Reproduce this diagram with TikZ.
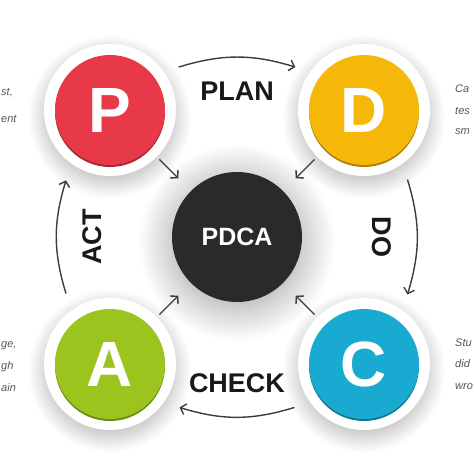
\documentclass[tikz,border=0pt]{standalone}
\usepackage{fontspec}
\setmainfont{Liberation Sans}
\usetikzlibrary{arrows.meta,shadows.blur}
\definecolor{pdcared}{RGB}{232,57,73}
\definecolor{pdcayellow}{RGB}{246,184,8}
\definecolor{pdcablue}{RGB}{24,170,208}
\definecolor{pdcagreen}{RGB}{156,196,30}
\definecolor{pdcadark}{RGB}{42,42,42}
\definecolor{pdcaline}{RGB}{60,60,60}
\definecolor{pdcanote}{RGB}{85,85,85}

\begin{document}
\begin{tikzpicture}[x=1pt,y=1pt,
  ring/.style={circle,fill=white,minimum size=132pt,inner sep=0pt,
    blur shadow={shadow xshift=0pt,shadow yshift=-7pt,shadow blur radius=16pt,
      shadow blur steps=25,shadow opacity=28}},
  disc/.style={circle,fill=#1,minimum size=110pt,inner sep=0pt,text=white,
    font=\fontsize{64}{64}\selectfont\bfseries,
    preaction={fill=#1!70!black,transform canvas={yshift=-2pt}}},
  stage/.style={font=\fontsize{27}{27}\selectfont\bfseries,text=black!90,inner sep=0pt},
  flow/.style={pdcaline,line width=1.4pt,-{Straight Barb[length=5pt,width=11pt]}},
  note/.style={font=\fontsize{11}{11}\selectfont\itshape,text=pdcanote,inner sep=0pt}]
\useasboundingbox (0,0) rectangle (474,474);
\clip (0,0) rectangle (474,474);
% Centre
\node[circle,minimum size=130pt,inner sep=0pt,fill=pdcadark,
  text=white,font=\fontsize{25}{25}\selectfont\bfseries,
  blur shadow={shadow xshift=0pt,shadow yshift=-6pt,shadow blur radius=34pt,
    shadow blur steps=30,shadow opacity=38}]
  (PDCA) at (237,237) {PDCA};
% Rings
\node[ring] (Pring) at (110,364) {};
\node[ring] (Dring) at (364,364) {};
\node[ring] (Cring) at (364,110) {};
\node[ring] (Aring) at (110,110) {};
% Discs
\node[disc=pdcared] (P) at (Pring) {P};
\node[disc=pdcayellow] (D) at (Dring) {D};
\node[disc=pdcablue] (C) at (Cring) {C};
\node[disc=pdcagreen] (A) at (Aring) {A};
% Cycle arrows
\draw[flow] ([shift={(32:81)}]Pring.center) to[bend left=17] ([shift={(148:81)}]Dring.center);
\draw[flow] ([shift={(-58:82)}]Dring.center) to[bend left=17] ([shift={(58:82)}]Cring.center);
\draw[flow] ([shift={(212:82)}]Cring.center) to[bend left=17] ([shift={(-32:82)}]Aring.center);
\draw[flow] ([shift={(122:83)}]Aring.center) to[bend left=17] ([shift={(238:83)}]Pring.center);
% Arrows into the centre
\draw[flow] ([shift={(-45:70)}]Pring.center) -- ([shift={(135:83)}]PDCA.center);
\draw[flow] ([shift={(225:70)}]Dring.center) -- ([shift={(45:83)}]PDCA.center);
\draw[flow] ([shift={(135:70)}]Cring.center) -- ([shift={(-45:83)}]PDCA.center);
\draw[flow] ([shift={(45:70)}]Aring.center) -- ([shift={(225:83)}]PDCA.center);
% Stage labels
\node[stage] (plan) at (237,383) {PLAN};
\node[stage,rotate=-90] (do) at (382,237) {DO};
\node[stage] (check) at (237,91) {CHECK};
\node[stage,rotate=90] (act) at (92,237) {ACT};
% Notes at the frame edges
\node[note,anchor=base west] (planA) at (1,378) {st,};
\node[note,anchor=base west] (planB) at (1,351) {ent};
\node[note,anchor=base west] (doA) at (455,381) {Ca};
\node[note,anchor=base west] (doB) at (455,359) {tes};
\node[note,anchor=base west] (doC) at (455,339) {sm};
\node[note,anchor=base west] (actA) at (1,126) {ge,};
\node[note,anchor=base west] (actB) at (1,104) {gh};
\node[note,anchor=base west] (actC) at (1,82) {ain};
\node[note,anchor=base west] (checkA) at (455,127) {Stu};
\node[note,anchor=base west] (checkB) at (455,106) {did};
\node[note,anchor=base west] (checkC) at (455,84) {wro};
\end{tikzpicture}
\end{document}
